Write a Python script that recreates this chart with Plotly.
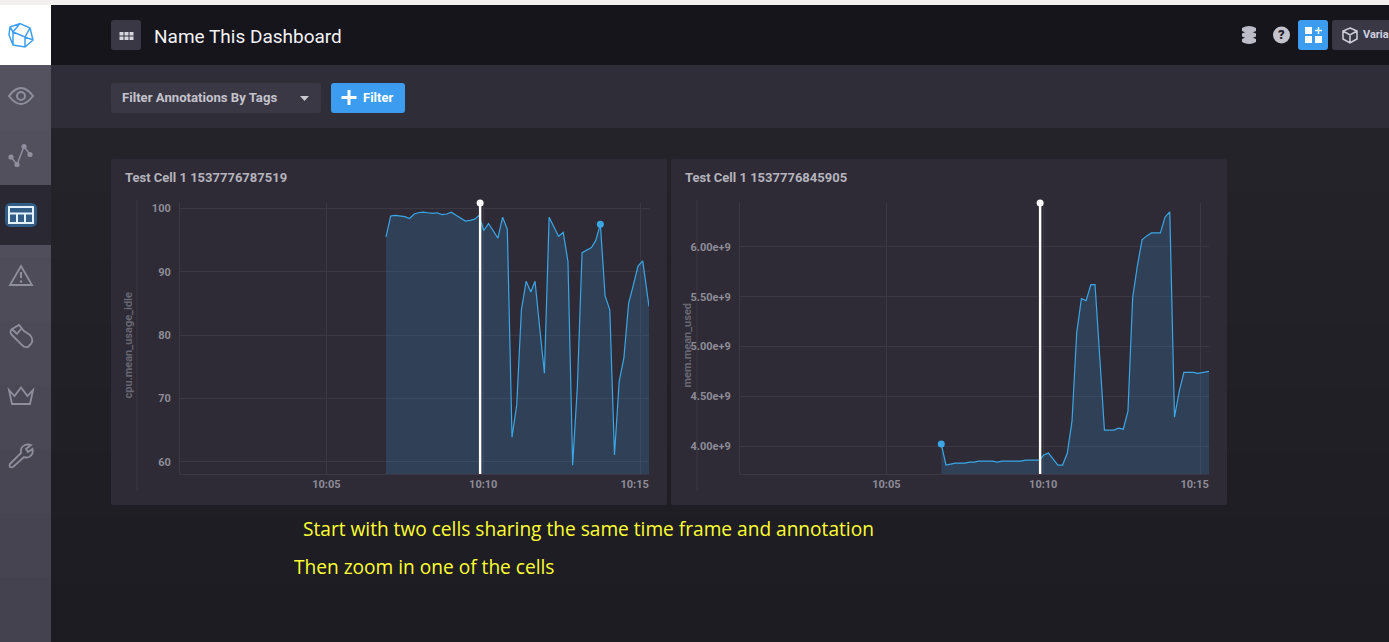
import re
import plotly.graph_objects as go

W, H = 1389, 642
DAY = "2018-09-24 "

times_cpu = ["10:06:54","10:07:03","10:07:12","10:07:21","10:07:30","10:07:39","10:07:48","10:07:56","10:08:05","10:08:14",
             "10:08:23","10:08:32","10:08:41","10:08:50","10:08:59","10:09:08","10:09:17","10:09:26","10:09:35","10:09:44",
             "10:09:52","10:10:01","10:10:10","10:10:19","10:10:28","10:10:37","10:10:46","10:10:55","10:11:04","10:11:13",
             "10:11:22","10:11:31","10:11:39","10:11:48","10:11:57","10:12:06","10:12:15","10:12:24","10:12:33","10:12:42",
             "10:12:51","10:13:00","10:13:09","10:13:18","10:13:27","10:13:35","10:13:44","10:13:53","10:14:02","10:14:11",
             "10:14:20","10:14:29","10:14:38","10:14:47","10:14:56","10:15:05","10:15:17"]
cpu_values = [95.5,98.8,98.9,98.85,98.7,98.4,99.1,99.3,99.4,99.3,
              99.2,99.3,99.0,99.1,99.4,98.9,98.5,98.0,98.1,98.3,
              98.9,96.5,97.6,96.5,95.3,98.6,96.7,63.9,69.0,84.0,
              88.5,86.8,88.5,81.1,74.0,98.6,97.1,95.6,96.2,91.6,
              59.5,71.9,93.0,93.4,93.8,94.9,97.5,86.2,84.0,61.1,
              72.7,76.4,85.0,87.9,90.9,91.7,84.5]
times_mem = ["10:06:45"] + times_cpu
mem_values = [4.02e9,3.81e9,3.82e9,3.83e9,3.83e9,3.83e9,3.84e9,3.84e9,3.85e9,3.85e9,
              3.85e9,3.85e9,3.84e9,3.85e9,3.85e9,3.85e9,3.85e9,3.85e9,3.86e9,3.86e9,
              3.86e9,3.86e9,3.91e9,3.93e9,3.87e9,3.81e9,3.81e9,3.93e9,4.25e9,5.14e9,
              5.48e9,5.46e9,5.62e9,5.62e9,4.90e9,4.16e9,4.16e9,4.16e9,4.18e9,4.17e9,
              4.35e9,5.49e9,5.81e9,6.07e9,6.11e9,6.14e9,6.14e9,6.14e9,6.30e9,6.35e9,
              4.29e9,4.55e9,4.74e9,4.74e9,4.74e9,4.73e9,4.74e9,4.75e9]
annotation_time = "10:09:54"
cpu_marker = ("10:13:44", 97.5)
mem_marker = ("10:06:45", 4.02e9)
cpu_ticks = [60, 70, 80, 90, 100]
cpu_labels = ["60", "70", "80", "90", "100"]
mem_ticks = [4.0e9, 4.5e9, 5.0e9, 5.5e9, 6.0e9]
mem_labels = ["4.00e+9", "4.50e+9", "5.00e+9", "5.50e+9", "6.00e+9"]
time_ticks = ["10:05:00", "10:10:00", "10:15:00"]
time_labels = ["10:05", "10:10", "10:15\u00a0\u00a0\u00a0\u00a0"]
cpu_range = [58.1, 100.84]
mem_range = [3.72e9, 6.44e9]
cpu_title = "cpu.mean_usage_idle"
mem_title = "mem.mean_used"
cell_titles = ["Test Cell 1 1537776787519", "Test Cell 1 1537776845905"]
dash_title = "Name This Dashboard"
caption_a = "Start with two cells sharing the same time frame and annotation"
caption_b = "Then zoom in one of the cells"

LINE = "#3aa6e6"; FILL = "rgba(62,152,216,0.2)"; GRID = "#3a3844"; TICK = "#8d8c96"
BTN = "#3a3845"; BLUE = "#3c9df0"; ICON = "#8f8e9d"

def fx(x): return x / W
def fy(y): return 1 - y / H

def conv(d):
    out, nums = [], []
    for tok in re.findall(r"[A-Za-z]|-?\d+\.?\d*", d):
        if tok.isalpha():
            out.append(tok)
        else:
            nums.append(float(tok))
            if len(nums) == 2:
                out.append(f"{fx(nums[0]):.5f},{fy(nums[1]):.5f}")
                nums = []
    return " ".join(out)

shapes = []
def rect(x0, y0, x1, y1, c):
    shapes.append(dict(type="rect", xref="paper", yref="paper", x0=fx(x0), x1=fx(x1), y0=fy(y0), y1=fy(y1),
                       fillcolor=c, line=dict(width=0), layer="below"))
def path(d, fill=None, stroke=None, w=1.5):
    shapes.append(dict(type="path", xref="paper", yref="paper", path=conv(d), layer="below",
                       fillcolor=fill if fill else "rgba(0,0,0,0)",
                       line=dict(color=stroke if stroke else "rgba(0,0,0,0)", width=w if stroke else 0)))
def rrect(x0, y0, x1, y1, r, c):
    path(f"M{x0+r} {y0} L{x1-r} {y0} Q{x1} {y0} {x1} {y0+r} L{x1} {y1-r} Q{x1} {y1} {x1-r} {y1} "
         f"L{x0+r} {y1} Q{x0} {y1} {x0} {y1-r} L{x0} {y0+r} Q{x0} {y0} {x0+r} {y0} Z", fill=c)
def circle(cx, cy, r, fill=None, stroke=None, w=1.5):
    shapes.append(dict(type="circle", xref="paper", yref="paper", x0=fx(cx-r), x1=fx(cx+r), y0=fy(cy-r), y1=fy(cy+r),
                       layer="below", fillcolor=fill if fill else "rgba(0,0,0,0)",
                       line=dict(color=stroke if stroke else "rgba(0,0,0,0)", width=w if stroke else 0)))
def line(x0, y0, x1, y1, c, w=1):
    shapes.append(dict(type="line", xref="paper", yref="paper", x0=fx(x0), x1=fx(x1), y0=fy(y0), y1=fy(y1),
                       layer="below", line=dict(color=c, width=w)))

# page regions
rows = ["#24232a", "#232229", "#222127", "#212026", "#201f25", "#1f1e24", "#1e1d23", "#1d1c22"]
for i, c in enumerate(rows):
    rect(51, 128 + i * 65, W, 128 + (i + 1) * 65 + 1, c)
rect(51, 5, W, 65, "#17151c")
rect(51, 65, W, 128, "#2f2d38")
side = ["#555260", "#53505e", "#514e5c", "#4f4c5a", "#4d4a58", "#4b4856", "#494654", "#474452", "#454250"]
for i, c in enumerate(side):
    rect(0, 65 + i * 64, 51, 65 + (i + 1) * 64 + 1, c)
rect(0, 5, 51, 65, "#ffffff")
rect(0, 0, W, 5, "#f1f0ee")
rect(0, 185, 51, 245, "#2a2832")

# sidebar icons
path("M10 27 L20 23.5 L30 28 L33 40 L25 47 L13 45 L9 35 Z M20 23.5 L13 32 L25 37 L30 28 M13 32 L10 27 M13 32 L13 45 M25 37 L25 47 M25 37 L33 40",
     stroke="#3f9ff2", w=1.5)
path("M9 96 Q21 80 33 96 Q21 112 9 96 Z", stroke=ICON, w=2)
circle(21, 96, 4, stroke=ICON, w=2)
path("M11 157 L17 164.5 L24 146.5 L30 154.5", stroke=ICON, w=1.5)
for cx, cy in [(11, 157), (17, 164.5), (24, 146.5), (30, 154.5)]:
    circle(cx, cy, 2.6, fill=ICON)
rrect(5, 203, 37, 227, 6, "rgba(60,157,240,0.45)")
path("M9 207 L33 207 L33 223 L9 223 Z M9 213.5 L33 213.5 M17 213.5 L17 223 M25 213.5 L25 223", stroke="#e4f1ff", w=2)
path("M21 266 L32 285 L10 285 Z", stroke=ICON, w=1.8)
line(21, 272, 21, 278, ICON, 2)
circle(21, 281.5, 1.2, fill=ICON)
path("M12 329 L19 325 L24 331 L30 335 Q34 340 31 344 L28 347 Q24 348 21 344 L12 335 Q9 332 12 329 Z M12 329 L17 334 L21 329",
     stroke=ICON, w=1.8)
path("M9 390 L14.5 396 L21 387.5 L27.5 396 L33 390 L30 404 L12 404 Z", stroke=ICON, w=1.8)
path("M10 464 L21 453 Q20 447 25 445 Q28 444 31 445 L26 449 L28 452 L32.5 449 Q34 454 29 457 Q26 458 24 457 L13 467 Q10 468 9.5 466 Z",
     stroke=ICON, w=1.8)

# header widgets
rrect(111, 20, 141, 50, 3, BTN)
rect(119.5, 32, 123.5, 35.5, "#d6d6de"); rect(124.5, 32, 128.5, 35.5, "#d6d6de"); rect(129.5, 32, 133.5, 35.5, "#d6d6de")
rect(119.5, 36.5, 123.5, 40, "#d6d6de"); rect(124.5, 36.5, 128.5, 40, "#d6d6de"); rect(129.5, 36.5, 133.5, 40, "#d6d6de")
for y0 in (27, 32.5, 38):
    path(f"M1242 {y0+1} Q1249 {y0-3} 1256 {y0+1} L1256 {y0+4} Q1249 {y0+8} 1242 {y0+4} Z", fill="#bcbcc8")
circle(1281.5, 35, 8.5, fill="#c3c3cc")
rrect(1298, 20, 1328, 50, 3, BLUE)
rect(1305, 27, 1312, 34, "#ffffff"); rect(1305, 36, 1312, 43, "#ffffff"); rect(1315, 36, 1322, 43, "#ffffff")
line(1318.5, 27, 1318.5, 34, "#ffffff", 1.5); line(1315, 30.5, 1322, 30.5, "#ffffff", 1.5)
rrect(1332, 20, 1395, 50, 3, BTN)
path("M1350 28 L1357 31 L1357 39 L1350 43 L1343 39 L1343 31 Z M1343 31 L1350 35 L1357 31 M1350 35 L1350 43", stroke="#d0d0dc", w=1.5)
rrect(111, 83, 321, 113, 3, BTN)
path("M300 96 L309 96 L304.5 101 Z", fill="#c8c8d0")
rrect(331, 83, 405, 113, 3, BLUE)
line(349, 90, 349, 105, "#ffffff", 3); line(341.5, 97.5, 356.5, 97.5, "#ffffff", 3)

# cells
rrect(111, 159, 667, 505, 3, "#2e2b36")
rrect(671, 159, 1227, 505, 3, "#2e2b36")
line(137, 200, 137, 491, "#3a3844", 1)
line(697, 200, 697, 491, "#3a3844", 1)

def label(x, y, t, size=13, color="#c0bfc8", weight=400, family="Roboto"):
    return dict(xref="paper", yref="paper", x=fx(x), y=fy(y), text=t, showarrow=False, xanchor="left", yanchor="middle",
                font=dict(size=size, color=color, family=family, weight=weight), borderpad=0, borderwidth=0)
def vlabel(x, y, t):
    return dict(xref="paper", yref="paper", x=fx(x), y=fy(y), text=t, showarrow=False, xanchor="center", yanchor="middle",
                textangle=-90, borderpad=0, borderwidth=0,
                font=dict(size=11, color="#686672", family="Roboto", weight=700))

annots = [
    label(154, 36, dash_title, 19, "#f2f2f6"),
    label(122, 97.5, "Filter Annotations By Tags", 13.15, "#c4c3cc", 700),
    label(363, 97.5, "Filter", 13, "#ffffff", 700),
    label(125, 178, cell_titles[0], 13, "#b4b3bc", 700),
    label(685, 178, cell_titles[1], 13, "#b4b3bc", 700),
    label(1278, 35, "?", 13, "#22202a", 900),
    label(1362.5, 35, "Varia", 11, "#d0d0e0", 700),
    label(303, 529, caption_a, 19.13, "#ffff33", 400, "Open Sans"),
    label(294, 567, caption_b, 19.13, "#ffff33", 400, "Open Sans"),
    vlabel(127.5, 345, cpu_title),
    vlabel(687, 345.5, mem_title),
]

def stamp(ts): return [DAY + t for t in ts]

fig = go.Figure()
def panel(times, values, marker, yrange, ax):
    xa, ya = ("x", "y") if ax == 1 else ("x2", "y2")
    fig.add_trace(go.Scatter(x=stamp(times), y=values, mode="lines", fill="tozeroy", fillcolor=FILL,
                             line=dict(color=LINE, width=1.2), xaxis=xa, yaxis=ya, showlegend=False))
    fig.add_trace(go.Scatter(x=stamp([annotation_time, annotation_time]), y=yrange, mode="lines",
                             line=dict(color="#ffffff", width=2.4), xaxis=xa, yaxis=ya, showlegend=False))
    fig.add_trace(go.Scatter(x=stamp([annotation_time]), y=[yrange[1]], mode="markers",
                             marker=dict(size=7, color="#ffffff", opacity=1), cliponaxis=False,
                             xaxis=xa, yaxis=ya, showlegend=False))
    fig.add_trace(go.Scatter(x=stamp([marker[0]]), y=[marker[1]], mode="markers",
                             marker=dict(size=7, color=LINE), cliponaxis=False, xaxis=xa, yaxis=ya, showlegend=False))

panel(times_cpu, cpu_values, cpu_marker, cpu_range, 1)
panel(times_mem, mem_values, mem_marker, mem_range, 2)

def xaxis(x0, x1):
    return dict(domain=[fx(x0), fx(x1)], range=[DAY + "10:00:20", DAY + "10:15:17"], type="date",
                tickvals=stamp(time_ticks), ticktext=time_labels, tickangle=0,
                showgrid=True, gridcolor=GRID, gridwidth=1, zeroline=False, showline=True, linecolor=GRID, linewidth=1,
                ticks="", tickfont=dict(family="Roboto", size=11, color=TICK, weight=700))
def yaxis(rng, vals, labs, anchor):
    return dict(domain=[fy(474), fy(203)], range=rng, tickvals=vals, ticktext=labs, anchor=anchor,
                showgrid=True, gridcolor=GRID, gridwidth=1, zeroline=False, showline=True, linecolor=GRID, linewidth=1,
                ticks="outside", ticklen=6, tickcolor="rgba(0,0,0,0)",
                tickfont=dict(family="Roboto", size=11, color=TICK, weight=700))

fig.update_layout(
    width=W, height=H, autosize=False, margin=dict(l=0, r=0, t=0, b=0, pad=0, autoexpand=False),
    paper_bgcolor="#1d1c22", plot_bgcolor="rgba(0,0,0,0)", showlegend=False, hovermode=False,
    xaxis=xaxis(180, 649), xaxis2=xaxis(740, 1209),
    yaxis=yaxis(cpu_range, cpu_ticks, cpu_labels, "x"),
    yaxis2=yaxis(mem_range, mem_ticks, mem_labels, "x2"),
    shapes=shapes, annotations=annots,
)
fig.update_layout(xaxis2=dict(anchor="y2"))
fig.write_html("out.html", config=dict(displayModeBar=False),
               post_script="document.body.style.margin='0';document.body.style.overflow='hidden';")
